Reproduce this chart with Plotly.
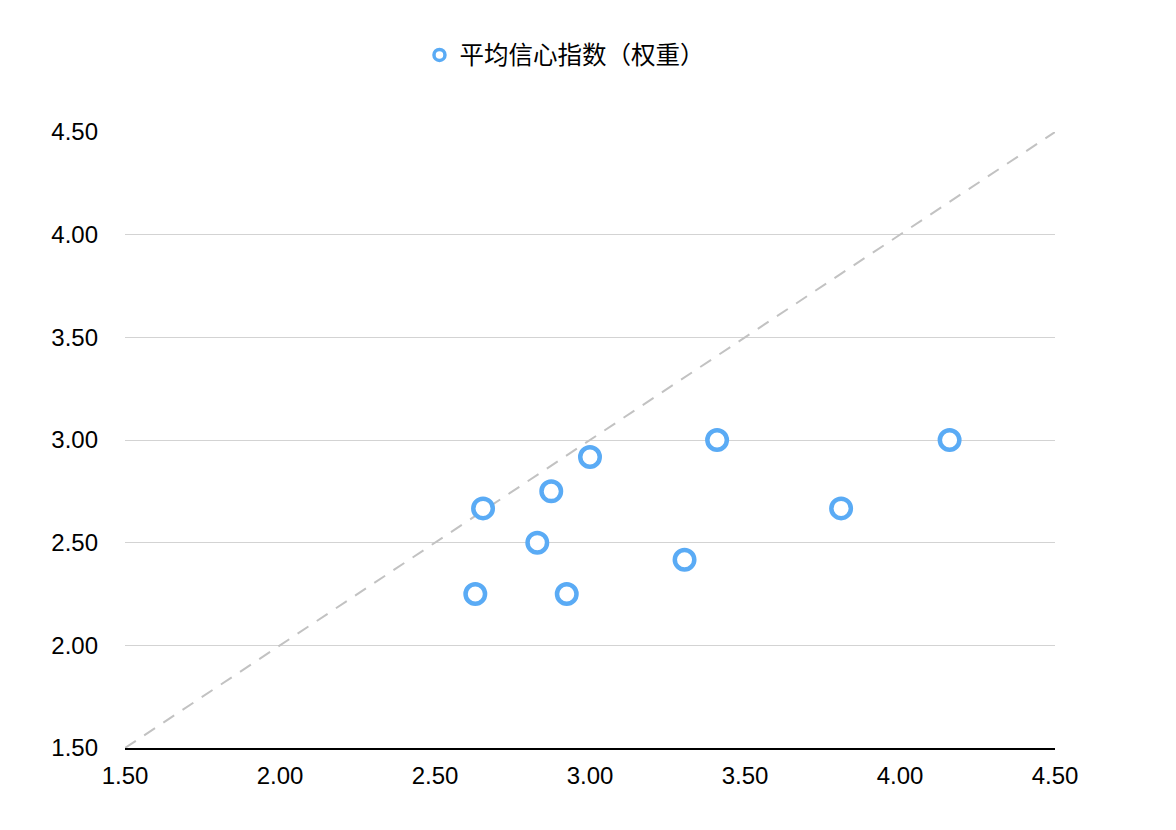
import plotly.graph_objects as go

series_name = "平均信心指数（权重）"
x_vals = [2.63, 2.655, 2.83, 2.875, 2.925, 3.0, 3.305, 3.41, 3.81, 4.16]
y_vals = [2.25, 2.667, 2.5, 2.75, 2.25, 2.917, 2.417, 3.0, 2.667, 3.0]
ref_line = [1.5, 4.5]
tick_vals = [1.5, 2.0, 2.5, 3.0, 3.5, 4.0, 4.5]
tick_text = ["1.50", "2.00", "2.50", "3.00", "3.50", "4.00", "4.50"]

blue = "#5AABF5"
font_fam = "Liberation Sans, Noto Sans CJK SC, sans-serif"

fig = go.Figure()
fig.add_trace(go.Scatter(
    x=ref_line, y=ref_line, mode="lines",
    line=dict(color="#c2c2c2", width=2, dash="13px,10px"),
    showlegend=False, hoverinfo="skip"))
fig.add_trace(go.Scatter(
    x=x_vals, y=y_vals, mode="markers", name=series_name,
    marker=dict(symbol="circle", size=19.5, color="white",
                line=dict(color=blue, width=4.5)),
    showlegend=False))
fig.add_trace(go.Scatter(
    x=[None], y=[None], mode="markers", name=series_name,
    marker=dict(symbol="circle", size=11, color="white",
                line=dict(color=blue, width=3.5)),
    showlegend=True))

fig.update_layout(
    width=1176, height=830,
    margin=dict(l=125, r=121, t=132, b=82),
    paper_bgcolor="white", plot_bgcolor="white",
    font=dict(family=font_fam, size=24, color="black"),
    legend=dict(orientation="h", xref="container", x=0.480, xanchor="center",
                yref="container", y=1 - 55 / 830, yanchor="middle",
                font=dict(size=24.5, family="Noto Sans CJK SC, sans-serif"),
                itemwidth=30),
    xaxis=dict(range=[1.5, 4.5], tickvals=tick_vals, ticktext=tick_text,
               showgrid=False, zeroline=False, showline=True, linecolor="black",
               linewidth=2, ticks="", ticklabelstandoff=5),
    yaxis=dict(range=[1.5, 4.5], tickvals=tick_vals, ticktext=tick_text,
               showgrid=True, gridcolor="#d3d3d3", gridwidth=1, zeroline=False,
               showline=False, ticks="", ticklabelstandoff=26),
)
fig.write_html("out.html")
